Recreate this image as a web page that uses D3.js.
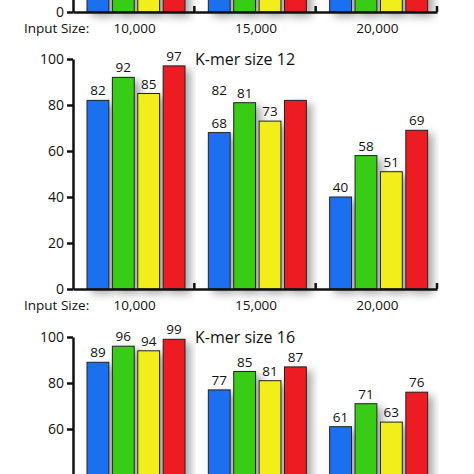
<!DOCTYPE html>
<html><head><meta charset="utf-8">
<script src="https://cdn.jsdelivr.net/npm/d3@7"></script>
<style>body{margin:0;background:#fff}text{font-family:"Open Sans",sans-serif;fill:#111}</style>
</head><body><div id="chart"></div>
<script>
const sizes = ["10,000", "15,000", "20,000"];
const series = ["blue", "green", "yellow", "red"];
const colors = ["#1e6ff0", "#38cc12", "#f2ee1e", "#ec1c24"];
const yTicks = [0, 20, 40, 60, 80, 100];
// panels: title, values per input size (series order)
const panelTitles = ["K-mer size 8", "K-mer size 12", "K-mer size 16"];
const k8 = [[95, 99, 97, 100], [92, 97, 95, 99], [85, 94, 90, 97]];
const k12 = [[82, 92, 85, 97], [68, 81, 73, 82], [40, 58, 51, 69]];
const k16 = [[89, 96, 94, 99], [77, 85, 81, 87], [61, 71, 63, 76]];
const panels = [k8, k12, k16];

const W = 474, H = 474;
const svg = d3.select("#chart").append("svg").attr("width", W).attr("height", H);

const defs = svg.append("defs");
const f = defs.append("filter").attr("id", "sh").attr("x", "-30%").attr("y", "-30%").attr("width", "180%").attr("height", "160%");
f.append("feDropShadow").attr("dx", 5).attr("dy", 4).attr("stdDeviation", 4).attr("flood-color", "#000").attr("flood-opacity", 0.35);

const x0 = d3.scaleBand().domain(sizes).range([73, 437]);
const x1 = d3.scaleBand().domain(series).range([14, 112]).paddingInner(0.14);
const offsets = [-277, 0, 278];

panels.forEach((vals, p) => {
  const off = offsets[p];
  const g = svg.append("g").attr("transform", `translate(0,${off})`);
  const y = d3.scaleLinear().domain([0, 100]).range([289, 59]);
  const visible = v => v + off > 0 && v + off < H;

  const grp = g.selectAll("g.grp").data(vals).enter().append("g")
    .attr("transform", (d, i) => `translate(${x0(sizes[i])},0)`);
  grp.selectAll("rect").data(d => d).enter().append("rect")
    .attr("x", (d, i) => x1(series[i]))
    .attr("y", d => y(d))
    .attr("width", x1.bandwidth())
    .attr("height", d => y(0) - y(d))
    .attr("fill", (d, i) => colors[i])
    .attr("stroke", "#222").attr("stroke-width", 1)
    .attr("filter", "url(#sh)");
  grp.selectAll("text").data(d => d.filter(v => visible(y(v) - 15))).enter().append("text")
    .attr("x", (d, i) => x1(series[vals.flat().indexOf(d) % 4]) + x1.bandwidth() / 2)
    .attr("y", d => y(d) - 5)
    .attr("text-anchor", "middle").attr("font-size", 13.5)
    .text(d => d);

  const ya = g.append("g").attr("transform", "translate(73,0)")
    .call(d3.axisLeft(y).tickValues(yTicks.filter(t => visible(y(t)))).tickSize(6).tickSizeOuter(0));
  ya.select(".domain").attr("stroke", "#111").attr("stroke-width", 2.5);
  ya.selectAll("line").attr("stroke", "#111").attr("stroke-width", 2.5);
  ya.selectAll("text").attr("font-size", 14).attr("font-family", "Open Sans").attr("fill", "#111").attr("x", -9);

  const xa = g.append("g").attr("transform", "translate(0,289)")
    .call(d3.axisBottom(x0).tickValues([]).tickSizeOuter(0));
  xa.select(".domain").attr("stroke", "#111").attr("stroke-width", 2.5);
  g.selectAll("line.sep").data(sizes.slice(1)).enter().append("line")
    .attr("x1", d => x0(d)).attr("x2", d => x0(d))
    .attr("y1", 283).attr("y2", 289).attr("stroke", "#111").attr("stroke-width", 2.5);
  g.append("line").attr("x1", 437).attr("x2", 437).attr("y1", 283).attr("y2", 289)
    .attr("stroke", "#111").attr("stroke-width", 2.5);

  if (visible(310)) {
    g.append("text").attr("x", 24).attr("y", 310).attr("font-size", 13.5).text("Input Size:");
    g.selectAll("text.cat").data(sizes).enter().append("text")
      .attr("x", d => x0(d) + x0.bandwidth() / 2 + 1).attr("y", 310)
      .attr("text-anchor", "middle").attr("font-size", 13.5).text(d => d);
  }
  if (visible(52)) {
    g.append("text").attr("x", 195).attr("y", 65).attr("font-size", 16).text(panelTitles[p]);
  }
});
</script></body></html>
